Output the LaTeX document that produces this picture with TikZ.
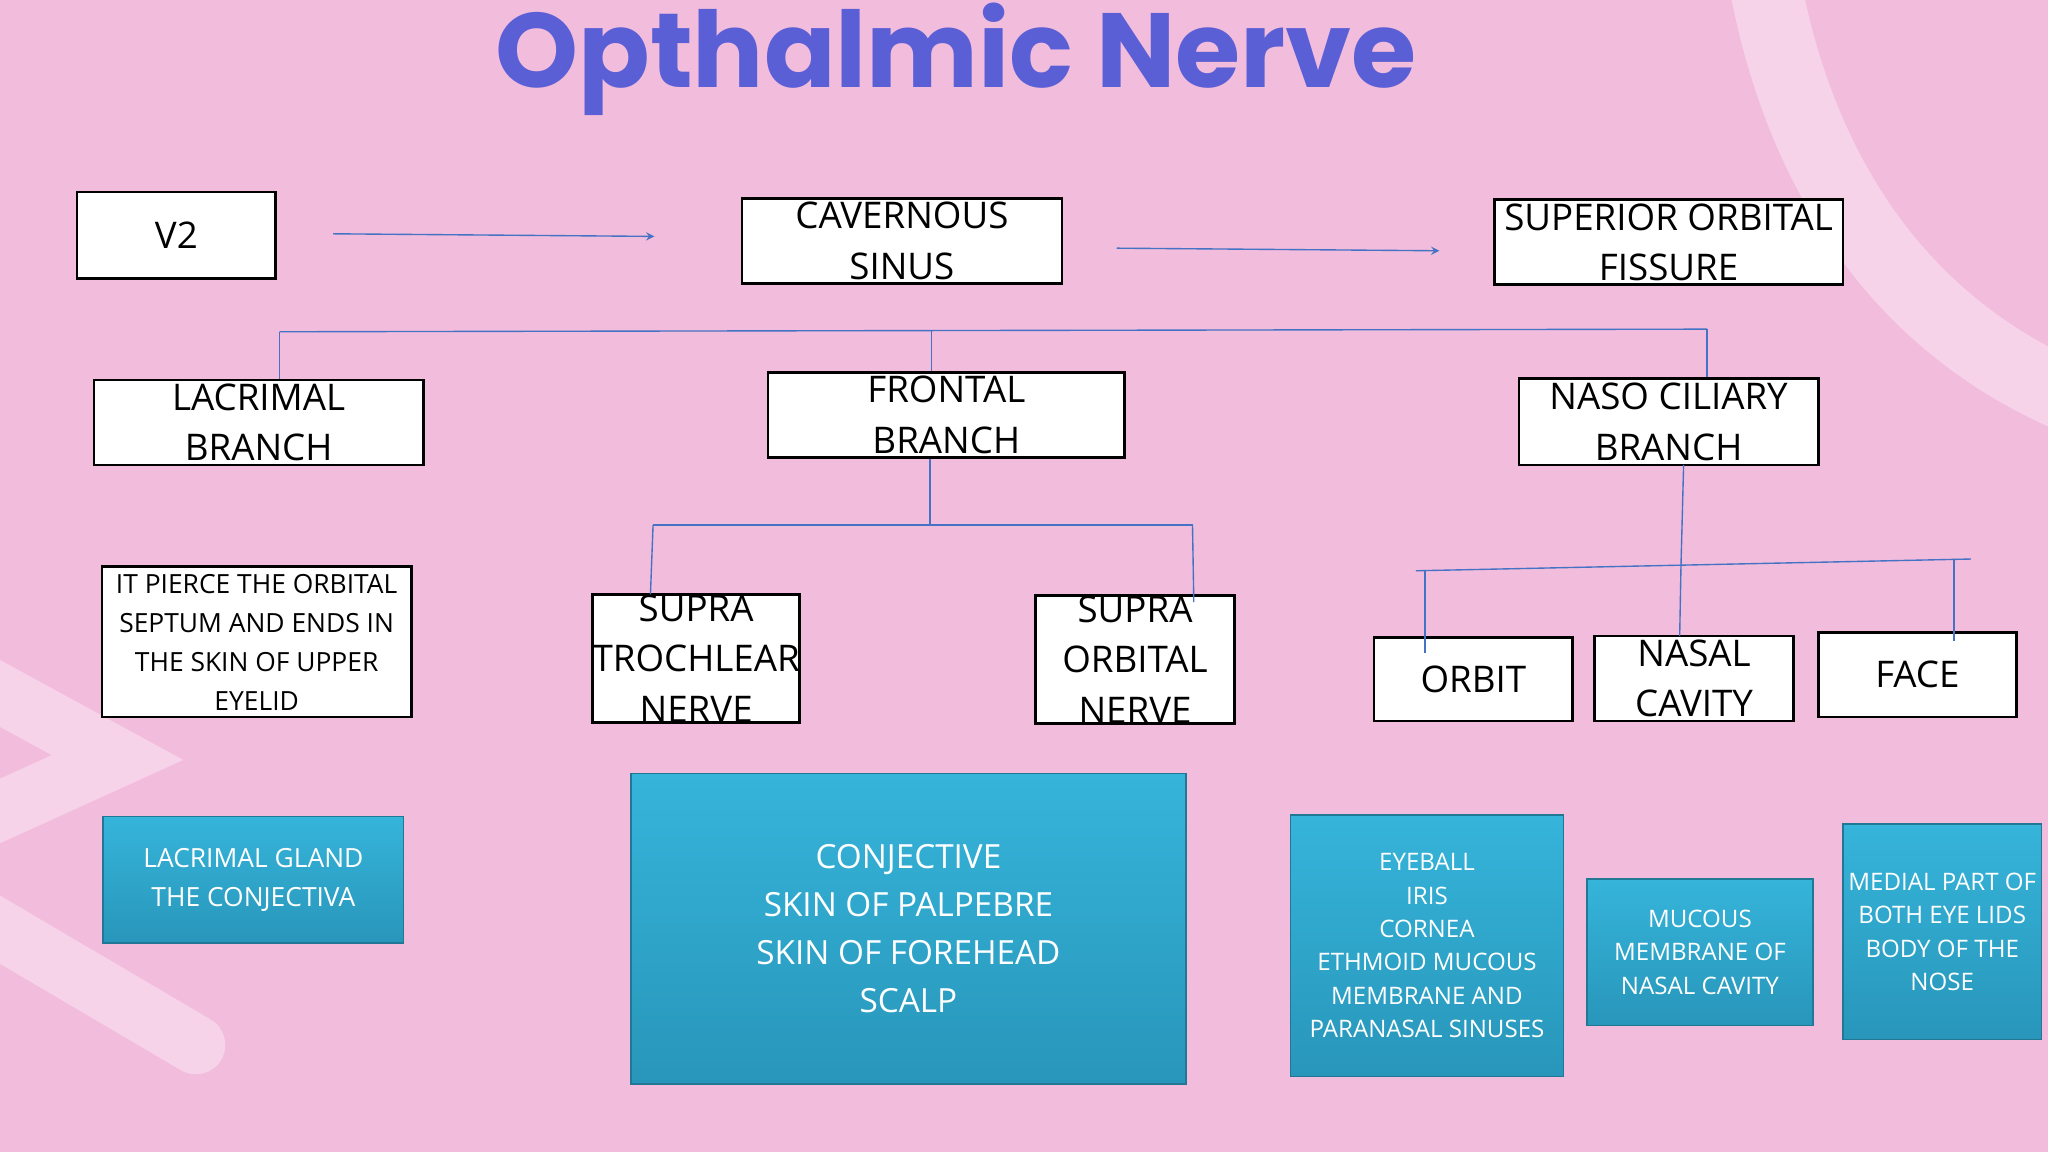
\documentclass[tikz,border=0pt]{standalone}
\usepackage{fontspec}
\setmainfont{Open Sans}
\newfontfamily\titlefont{Poppins}
\definecolor{bgpink}{HTML}{F2BCDC}
\definecolor{titleblue}{HTML}{5B5FD6}
\definecolor{lineblue}{HTML}{4472C4}
\definecolor{tealtop}{HTML}{36B4DA}
\definecolor{tealbot}{HTML}{2896BA}
\tikzset{
  wbox/.style={draw=black,line width=1.2pt,fill=white,align=center,inner sep=0pt,font=\fontsize{16}{22}\selectfont},
  tbox/.style={draw=tealbot!80!black,line width=0.6pt,top color=tealtop,bottom color=tealbot,text=white,align=center,inner sep=0pt,font=\fontsize{10.5}{14.5}\selectfont},
  conn/.style={draw=lineblue,line width=0.6pt},
  arr/.style={conn,-stealth}
}
\newcommand{\bx}[6]{\node[#1,minimum width=#4*0.02cm-#2*0.02cm,minimum height=#5*0.02cm-#3*0.02cm] (#6) at ({(#2+#4)/2},{(#3+#5)/2})}
\begin{document}
\begin{tikzpicture}[x=0.02cm,y=-0.02cm]
\fill[bgpink] (0,0) rectangle (1568,882);
\useasboundingbox (0,0) rectangle (1568,882);
% decorative shapes
\begin{scope}
\clip (0,0) rectangle (1568,882);
\draw[white,opacity=0.35,line width=1.1cm] (1350,-20) .. controls (1380,150) and (1470,260) .. (1600,310);
\draw[white,opacity=0.35,line width=0.9cm,line cap=round] (-20,520) -- (90,580) -- (-20,630);
\draw[white,opacity=0.35,line width=0.9cm,line cap=round] (-20,700) -- (150,800);
\end{scope}
\node[font=\titlefont\bfseries\fontsize{46}{50}\selectfont,text=titleblue] (title) at (732,45) {Opthalmic Nerve};
% level 1
\bx{wbox}{59}{147}{211}{213}{v2} {V2};
\bx{wbox}{568}{152}{813}{217}{cs} {CAVERNOUS\\SINUS};
\bx{wbox}{1144}{153}{1411}{218}{sof} {SUPERIOR ORBITAL\\FISSURE};
% level 2
\bx{wbox}{72}{291}{324}{356}{lac} {LACRIMAL\\BRANCH};
\bx{wbox}{588}{285}{861}{350}{fro} {FRONTAL\\BRANCH};
\bx{wbox}{1163}{290}{1392}{356}{naso} {NASO CILIARY\\BRANCH};
% level 3
\bx{wbox,font=\fontsize{11.5}{17}\selectfont}{78}{434}{315}{549}{pierce} {IT PIERCE THE ORBITAL\\SEPTUM AND ENDS IN\\THE SKIN OF UPPER\\EYELID};
\bx{wbox}{457}{455}{609}{553}{st} {SUPRA\\TROCHLEAR\\NERVE};
\bx{wbox}{793}{461}{945}{549}{so} {SUPRA\\ORBITAL\\NERVE};
\bx{wbox}{1052}{488}{1204}{552}{orb} {ORBIT};
\bx{wbox}{1221}{487}{1373}{552}{nc} {NASAL\\CAVITY};
\bx{wbox}{1392}{484}{1544}{549}{face} {FACE};
% teal boxes
\bx{tbox,font=\fontsize{11.5}{17}\selectfont}{79}{625}{309}{722}{lg} {LACRIMAL GLAND\\THE CONJECTIVA};
\bx{tbox,font=\fontsize{14.5}{21}\selectfont}{483}{592}{908}{830}{conj} {CONJECTIVE\\SKIN OF PALPEBRE\\SKIN OF FOREHEAD\\SCALP};
\bx{tbox}{988}{624}{1197}{824}{eye} {EYEBALL\\IRIS\\CORNEA\\ETHMOID MUCOUS\\MEMBRANE AND\\PARANASAL SINUSES};
\bx{tbox}{1215}{673}{1388}{785}{muc} {MUCOUS\\MEMBRANE OF\\NASAL CAVITY};
\bx{tbox}{1411}{631}{1563}{796}{med} {MEDIAL PART OF\\BOTH EYE LIDS\\BODY OF THE\\NOSE};
% arrows
\coordinate (a1s) at (255,179); \coordinate (a1e) at (501,181);
\coordinate (a2s) at (855,190); \coordinate (a2e) at (1102,192);
\draw[arr] (a1s) -- (a1e);
\draw[arr] (a2s) -- (a2e);
% branch bar
\coordinate (b1) at (214,254); \coordinate (b2) at (713,253); \coordinate (b3) at (1307,252);
\draw[conn] (b1) -- (b3);
\draw[conn] (b1) -- (b1 |- lac.north);
\draw[conn] (b2) -- (b2 |- fro.north);
\draw[conn] (b3) -- (b3 |- naso.north);
% frontal split
\coordinate (f0) at (712,402); \coordinate (f1) at (500,402); \coordinate (f2) at (913,402);
\draw[conn] (fro.south -| f0) -- (f0);
\draw[conn] (f1) -- (f2);
\draw[conn] (f1) -- (498,455);
\draw[conn] (f2) -- (914,461);
% naso split
\coordinate (n0) at (1287,433); \coordinate (n1) at (1084,437); \coordinate (n2) at (1509,428);
\coordinate (n3) at (1091,437); \coordinate (n4) at (1496,428);
\draw[conn] (1289,356) -- (n0) -- (1286,487);
\draw[conn] (n1) -- (n2);
\draw[conn] (n3) -- (1091,500);
\draw[conn] (n4) -- (1496,491);
\end{tikzpicture}
\end{document}
